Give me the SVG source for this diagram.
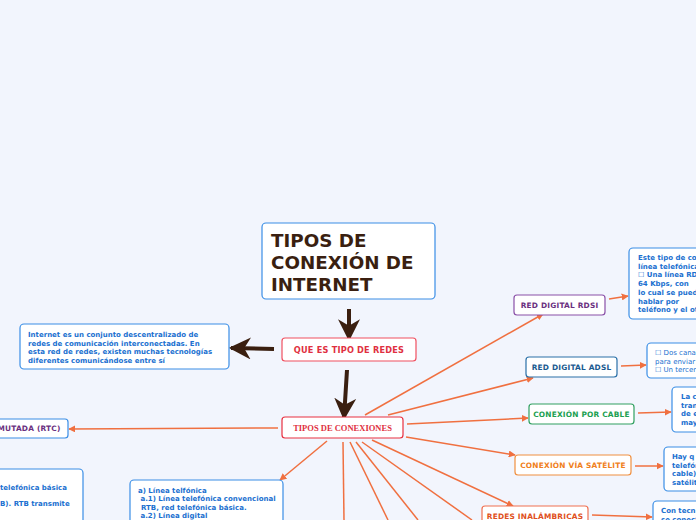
<svg xmlns="http://www.w3.org/2000/svg" width="696" height="520" viewBox="0 0 696 520">
<defs>
<marker id="a" viewBox="0 0 10 10" refX="9" refY="5" markerWidth="7" markerHeight="7" orient="auto" markerUnits="userSpaceOnUse"><path d="M0,0L10,5L0,10z" fill="#f07040"/></marker>
<marker id="b" viewBox="0 0 10 10" refX="9" refY="5" markerWidth="22" markerHeight="22" orient="auto" markerUnits="userSpaceOnUse"><path d="M0,0L10,5L0,10L3,5z" fill="#3a1f10"/></marker>
</defs>
<style>
text{font-family:"DejaVu Sans",Verdana,sans-serif;font-weight:bold}
.bl{fill:#fff;stroke:#3a8ee6;stroke-width:1.2}
.bt{fill:#1a70d0;font-size:7px}
.n{font-weight:normal}
.c{stroke:#f07040;stroke-width:1.5;fill:none;marker-end:url(#a)}
.l{stroke:#f07040;stroke-width:1.5;fill:none}
.t{font-size:7.4px;letter-spacing:0.2px;text-anchor:middle}
</style>
<rect width="696" height="520" fill="#f2f5fd"/>
<g id="connectors">
<line x1="349" y1="309" x2="349" y2="339" stroke="#3a1f10" stroke-width="4" marker-end="url(#b)"/>
<line x1="274" y1="349" x2="231" y2="348" stroke="#3a1f10" stroke-width="4" marker-end="url(#b)"/>
<line x1="347" y1="370" x2="344" y2="418" stroke="#3a1f10" stroke-width="4" marker-end="url(#b)"/>
<line class="c" x1="278" y1="428" x2="69" y2="429"/>
<line class="c" x1="327" y1="441" x2="280" y2="480"/>
<line class="l" x1="343" y1="442" x2="344" y2="520"/>
<line class="l" x1="350" y1="442" x2="388" y2="520"/>
<line class="l" x1="356" y1="442" x2="418" y2="520"/>
<line class="l" x1="362" y1="442" x2="472" y2="520"/>
<line class="c" x1="365" y1="415" x2="543" y2="314"/>
<line class="c" x1="388" y1="415" x2="533" y2="378"/>
<line class="c" x1="407" y1="424" x2="528" y2="418"/>
<line class="c" x1="406" y1="437" x2="515" y2="455"/>
<line class="c" x1="372" y1="440" x2="513" y2="506"/>
<line class="c" x1="609" y1="299" x2="628" y2="296"/>
<line class="c" x1="621" y1="366" x2="646" y2="365"/>
<line class="c" x1="638" y1="413" x2="671" y2="412"/>
<line class="c" x1="635" y1="466" x2="663" y2="466"/>
<line class="c" x1="592" y1="515" x2="652" y2="517"/>
</g>
<g id="title"><rect class="bl" x="262" y="223" width="173" height="76" rx="4"/>
<text fill="#3a1f10" font-size="18.3"><tspan x="271" y="247">TIPOS DE</tspan><tspan x="271" y="269">CONEXIÓN DE</tspan><tspan x="271" y="291">INTERNET</tspan></text></g>
<g id="que"><rect x="282" y="338" width="134" height="23" rx="3" fill="#fff" stroke="#f05060" stroke-width="1.2"/><text class="t" x="349" y="353" fill="#e03040" style="font-size:8.2px">QUE ES TIPO DE REDES</text></g>
<g id="internet"><rect class="bl" x="20" y="324" width="209" height="45" rx="4"/>
<text class="bt"><tspan x="28" y="337">Internet es un conjunto descentralizado de</tspan><tspan x="28" y="345.5">redes de comunicación interconectadas. En</tspan><tspan x="28" y="354">esta red de redes, existen muchas tecnologías</tspan><tspan x="28" y="362.5">diferentes comunicándose entre sí</tspan></text></g>
<g id="tipos"><rect x="282" y="417" width="121" height="21" rx="3" fill="#fff" stroke="#e83040" stroke-width="1.2"/><text x="342.5" y="431" fill="#e03040" font-size="8.5" text-anchor="middle" style="font-family:'Liberation Serif',serif">TIPOS DE CONEXIONES</text></g>
<g id="rtc"><rect class="bl" x="-5" y="419" width="73" height="19" rx="3"/><text class="t" x="29" y="431" fill="#6a3080">MUTADA (RTC)</text></g>
<g id="rtcdesc"><rect class="bl" x="-5" y="469" width="88" height="60" rx="4"/><text class="bt"><tspan x="0" y="490">telefónica básica</tspan><tspan x="0" y="506">B). RTB transmite</tspan></text></g>
<g id="linea"><rect class="bl" x="130" y="480" width="153" height="50" rx="4"/>
<text class="bt"><tspan x="138" y="493">a) Línea telfónica</tspan><tspan x="138" y="501">  a.1) Línea telefónica convencional</tspan><tspan x="141" y="509.5">RTB, red telefónica básica.</tspan><tspan x="138" y="518">  a.2) Línea digital</tspan></text></g>
<g id="rdsi"><rect x="514" y="295" width="91" height="20" rx="3" fill="#fff" stroke="#8a50a8" stroke-width="1.2"/><text class="t" x="559.5" y="308" fill="#6a3080">RED DIGITAL RDSI</text></g>
<g id="rdsidesc"><rect class="bl" x="629" y="248" width="80" height="71" rx="4"/>
<text class="bt"><tspan x="638" y="260">Este tipo de co</tspan><tspan x="638" y="268.7">línea telefónica</tspan><tspan x="638" y="277.4">☐ Una línea RD</tspan><tspan x="638" y="286.1">64 Kbps, con</tspan><tspan x="638" y="294.8">lo cual se pued</tspan><tspan x="638" y="303.5">hablar por</tspan><tspan x="638" y="312.2">teléfono y el ot</tspan></text></g>
<g id="adsl"><rect x="526" y="357" width="91" height="20" rx="3" fill="#fff" stroke="#2a70a8" stroke-width="1.2"/><text class="t" x="571.5" y="370" fill="#1a5a90">RED DIGITAL ADSL</text></g>
<g id="adsldesc"><rect class="bl" x="647" y="343" width="60" height="35" rx="4"/>
<text class="bt n"><tspan x="655" y="355">☐ Dos cana</tspan><tspan x="655" y="363.5">para enviar</tspan><tspan x="655" y="372">☐ Un tercer</tspan></text></g>
<g id="cable"><rect x="529" y="404" width="105" height="20" rx="3" fill="#fff" stroke="#30a060" stroke-width="1.2"/><text class="t" x="581.5" y="417" fill="#20a050">CONEXIÓN POR CABLE</text></g>
<g id="cabledesc"><rect class="bl" x="672" y="387" width="40" height="45" rx="4"/>
<text class="bt"><tspan x="681" y="399">La c</tspan><tspan x="681" y="407.5">tran</tspan><tspan x="681" y="416">de e</tspan><tspan x="681" y="424.5">may</tspan></text></g>
<g id="sat"><rect x="515" y="455" width="116" height="20" rx="3" fill="#fff" stroke="#f09040" stroke-width="1.2"/><text class="t" x="573" y="468" fill="#f08020">CONEXIÓN VÍA SATÉLITE</text></g>
<g id="satdesc"><rect class="bl" x="664" y="447" width="45" height="44" rx="4"/>
<text class="bt"><tspan x="672" y="459">Hay q</tspan><tspan x="672" y="467.5">telefón</tspan><tspan x="672" y="476">cable)</tspan><tspan x="672" y="484.5">satélit</tspan></text></g>
<g id="inal"><rect x="482" y="506" width="106" height="24" rx="3" fill="#fff" stroke="#f07050" stroke-width="1.2"/><text class="t" x="535" y="519" fill="#e05020">REDES INALÁMBRICAS</text></g>
<g id="inaldesc"><rect class="bl" x="653" y="501" width="55" height="30" rx="4"/>
<text class="bt"><tspan x="661" y="513">Con tecn</tspan><tspan x="661" y="521.5">se conect</tspan></text></g>
</svg>
